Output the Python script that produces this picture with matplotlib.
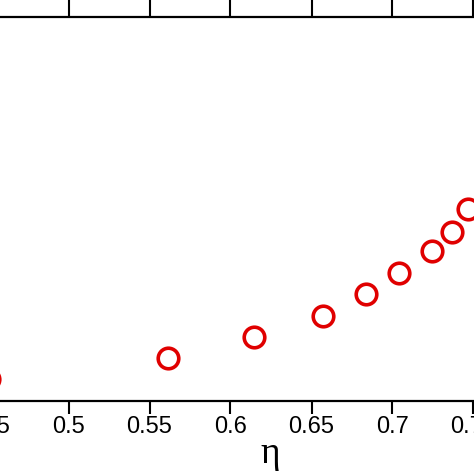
import numpy as np
import matplotlib.pyplot as plt

# data (y in arbitrary units, no y ticks visible)
eta = [0.4512, 0.5614, 0.6143, 0.6571, 0.6835, 0.7042, 0.7242, 0.7365, 0.7466]
vals = [0.057, 0.112, 0.166, 0.221, 0.279, 0.333, 0.391, 0.441, 0.500]
xticks = [0.45, 0.5, 0.55, 0.6, 0.65, 0.7, 0.75]
xticklabels = ['0.45', '0.5', '0.55', '0.6', '0.65', '0.7', '0.75']

fig = plt.figure(figsize=(4.74, 4.74), dpi=100)
# axes run past the figure edges, as in the cropped original
ax = fig.add_axes([-93.5 / 474, 73 / 474, 648 / 474, 384 / 474])

ax.plot(eta, vals, 'o', mfc='none', mec='#e00000', ms=14.8, mew=2.6,
        clip_on=False)

ax.set_xlim(0.4, 0.8)
ax.set_ylim(0, 1)
ax.set_xticks(xticks)
ax.set_xticklabels(xticklabels, fontsize=17, family='Liberation Sans')
ax.set_yticks([])
ax.tick_params(axis='x', direction='out', length=9.5, width=1.5, pad=1.2,
               top=True)
for t in ax.xaxis.get_major_ticks():
    t.tick2line.set_markersize(14)
for s in ax.spines.values():
    s.set_linewidth(1.6)

ax.set_xlabel('η', fontsize=27, family='Liberation Serif')
ax.xaxis.set_label_coords((270 + 93.5) / 648, (401 - 463) / 384)
ax.xaxis.label.set_va('baseline')

fig.savefig('out.png', dpi=100)
